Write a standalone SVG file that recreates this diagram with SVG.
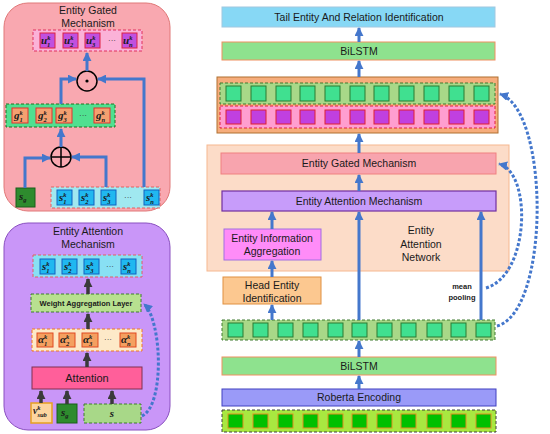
<svg xmlns="http://www.w3.org/2000/svg" width="550" height="434" viewBox="0 0 550 434">
<defs>
<style>
.t{font-family:"Liberation Sans",Arial,sans-serif;font-size:10.5px;fill:#1a1a1a;text-anchor:middle}
.tb{font-family:"Liberation Sans",Arial,sans-serif;font-size:7.5px;font-weight:bold;fill:#1a1a1a;text-anchor:middle}
.m{font-family:"Liberation Serif","Times New Roman",serif;font-style:italic;font-weight:bold;font-size:11px;fill:#1a1a1a}
.sp{font-size:6.5px}
.dots{font-family:"Liberation Sans",Arial,sans-serif;font-size:8px;fill:#333;text-anchor:middle}
.ba{fill:none;stroke:#4477cc;stroke-width:3}
.ka{fill:none;stroke:#3a3a3a;stroke-width:3.5}
.dc{fill:none;stroke:#4477cc;stroke-width:3;stroke-dasharray:3 2}
.rowG{fill:#a8d888;stroke:#3f7a2f;stroke-dasharray:3 2}
.sqG{fill:#40e090;stroke:#2a7a30}
.sqP{fill:#c040e0;stroke:#e02030}
.sqB{fill:#00c000;stroke:#e09020}
</style>
<marker id="ab" viewBox="0 0 10 10" refX="9" refY="5" markerUnits="userSpaceOnUse" markerWidth="9" markerHeight="9" orient="auto"><path d="M0,0 L10,5 L0,10 z" fill="#4477cc"/></marker>
<marker id="ak" viewBox="0 0 10 10" refX="9" refY="5" markerUnits="userSpaceOnUse" markerWidth="9" markerHeight="9" orient="auto"><path d="M0,0 L10,5 L0,10 z" fill="#3a3a3a"/></marker>
<rect id="sqr" width="15" height="15"/>
<rect id="sqr14" width="15" height="14"/>
</defs>

<!-- Left top panel: Entity Gated Mechanism -->
<g id="panel-gated">
<rect x="4" y="3" width="166" height="208" rx="24" fill="#f9a8b0" stroke="#e07878"/>
<text class="t" x="88" y="14">Entity Gated</text>
<text class="t" x="88" y="27">Mechanism</text>
</g>
<g id="u-vector">
<rect x="33" y="30" width="109" height="21" fill="#fbb2d8" stroke="#e03060" stroke-dasharray="3 2"/>
<g fill="#c050e0" stroke="#e02040">
<rect x="40" y="33" width="15" height="15"/><rect x="63" y="33" width="15" height="15"/><rect x="85" y="33" width="15" height="15"/><rect x="122" y="33" width="15" height="15"/>
</g>
<text class="m" x="41" y="44">u<tspan class="sp" dy="-4">k</tspan><tspan class="sp" dx="-3.3" dy="7">1</tspan></text>
<text class="m" x="64" y="44">u<tspan class="sp" dy="-4">k</tspan><tspan class="sp" dx="-3.3" dy="7">2</tspan></text>
<text class="m" x="86" y="44">u<tspan class="sp" dy="-4">k</tspan><tspan class="sp" dx="-3.3" dy="7">3</tspan></text>
<text class="dots" x="112" y="43">···</text>
<text class="m" x="123" y="44">u<tspan class="sp" dy="-4">k</tspan><tspan class="sp" dx="-3.3" dy="7">n</tspan></text>
</g>
<g id="odot">
<circle cx="87" cy="81" r="10" fill="none" stroke="#000" stroke-width="1.5"/>
<circle cx="87" cy="81" r="1.6" fill="#000"/>
</g>
<g id="g-vector">
<rect x="6" y="104" width="109" height="23" fill="#50e090" stroke="#207020" stroke-dasharray="3 2"/>
<g fill="#f4a070" stroke="#e03030">
<rect x="12" y="108" width="16" height="15"/><rect x="36" y="108" width="16" height="15"/><rect x="56" y="108" width="16" height="15"/><rect x="94" y="108" width="16" height="15"/>
</g>
<text class="m" x="14" y="119">g<tspan class="sp" dy="-4">k</tspan><tspan class="sp" dx="-3.3" dy="7">1</tspan></text>
<text class="m" x="38" y="119">g<tspan class="sp" dy="-4">k</tspan><tspan class="sp" dx="-3.3" dy="7">2</tspan></text>
<text class="m" x="58" y="119">g<tspan class="sp" dy="-4">k</tspan><tspan class="sp" dx="-3.3" dy="7">3</tspan></text>
<text class="dots" x="83" y="118">···</text>
<text class="m" x="96" y="119">g<tspan class="sp" dy="-4">k</tspan><tspan class="sp" dx="-3.3" dy="7">n</tspan></text>
</g>
<g id="oplus">
<circle cx="61" cy="157" r="10" fill="none" stroke="#000" stroke-width="1.5"/>
<path d="M51 157 H71 M61 147 V167" stroke="#000" stroke-width="1.5"/>
</g>
<g id="sg-top">
<rect x="16" y="188" width="19" height="19" fill="#2e8b2e" stroke="#1a5e1a"/>
<text class="m" x="19" y="200">s<tspan class="sp" dy="2">g</tspan></text>
</g>
<g id="s-vector-top">
<rect x="51" y="187" width="109" height="21" fill="#a0e8f0" stroke="#e06060" stroke-dasharray="3 2"/>
<g fill="#20b8f0" stroke="#1060c0">
<rect x="57" y="190" width="15" height="15"/><rect x="79" y="190" width="15" height="15"/><rect x="101" y="190" width="15" height="15"/><rect x="144" y="190" width="15" height="15"/>
</g>
<text class="m" x="59" y="201">s<tspan class="sp" dy="-4">k</tspan><tspan class="sp" dx="-3.3" dy="7">1</tspan></text>
<text class="m" x="81" y="201">s<tspan class="sp" dy="-4">k</tspan><tspan class="sp" dx="-3.3" dy="7">2</tspan></text>
<text class="m" x="103" y="201">s<tspan class="sp" dy="-4">k</tspan><tspan class="sp" dx="-3.3" dy="7">3</tspan></text>
<text class="dots" x="128" y="200">···</text>
<text class="m" x="146" y="201">s<tspan class="sp" dy="-4">k</tspan><tspan class="sp" dx="-3.3" dy="7">n</tspan></text>
</g>

<!-- Left bottom panel: Entity Attention Mechanism -->
<g id="panel-attention">
<rect x="4" y="223" width="166" height="207" rx="24" fill="#c996f8" stroke="#8a50c0"/>
<text class="t" x="88" y="235">Entity Attention</text>
<text class="t" x="88" y="248">Mechanism</text>
</g>
<g id="s-vector-bottom">
<rect x="33" y="255" width="109" height="22" fill="#88e0f4" stroke="#e06060" stroke-dasharray="3 2"/>
<g fill="#20b8f0" stroke="#1060c0">
<rect x="40" y="259" width="15" height="15"/><rect x="62" y="259" width="15" height="15"/><rect x="84" y="259" width="15" height="15"/><rect x="121" y="259" width="15" height="15"/>
</g>
<text class="m" x="42" y="270">s<tspan class="sp" dy="-4">k</tspan><tspan class="sp" dx="-3.3" dy="7">1</tspan></text>
<text class="m" x="64" y="270">s<tspan class="sp" dy="-4">k</tspan><tspan class="sp" dx="-3.3" dy="7">2</tspan></text>
<text class="m" x="86" y="270">s<tspan class="sp" dy="-4">k</tspan><tspan class="sp" dx="-3.3" dy="7">3</tspan></text>
<text class="dots" x="110" y="269">···</text>
<text class="m" x="123" y="270">s<tspan class="sp" dy="-4">k</tspan><tspan class="sp" dx="-3.3" dy="7">n</tspan></text>
</g>
<g id="weight-aggregation">
<rect x="31" y="294" width="110" height="18" fill="#b8e090" stroke="#3f7a2f" stroke-dasharray="3 2"/>
<text class="tb" x="86" y="306">Weight Aggregation Layer</text>
</g>
<g id="alpha-vector">
<rect x="32" y="329" width="110" height="22" fill="#fde9c8" stroke="#f07820" stroke-dasharray="3 2"/>
<g fill="#f4a060" stroke="#e04820">
<rect x="37" y="333" width="16" height="14"/><rect x="59" y="333" width="16" height="14"/><rect x="82" y="333" width="16" height="14"/><rect x="120" y="333" width="16" height="14"/>
</g>
<text class="m" x="38" y="343">α<tspan class="sp" dy="-4">k</tspan><tspan class="sp" dx="-3.3" dy="7">1</tspan></text>
<text class="m" x="60" y="343">α<tspan class="sp" dy="-4">k</tspan><tspan class="sp" dx="-3.3" dy="7">2</tspan></text>
<text class="m" x="83" y="343">α<tspan class="sp" dy="-4">k</tspan><tspan class="sp" dx="-3.3" dy="7">3</tspan></text>
<text class="dots" x="108" y="342">···</text>
<text class="m" x="121" y="343">α<tspan class="sp" dy="-4">k</tspan><tspan class="sp" dx="-3.3" dy="7">n</tspan></text>
</g>
<g id="attention">
<rect x="32" y="367" width="110" height="22" fill="#ff5f9a" stroke="#803050"/>
<text class="t" x="87" y="382" style="font-size:11px">Attention</text>
</g>
<g id="v-sub">
<rect x="31" y="403" width="21" height="20" fill="#fcd5a0" stroke="#e6a020" stroke-width="1.5"/>
<text class="m" x="33" y="414" style="font-size:9.5px">v<tspan class="sp" dy="-4">k</tspan><tspan class="sp" dx="-3" dy="7">sub</tspan></text>
</g>
<g id="sg-bottom">
<rect x="57" y="404" width="20" height="19" fill="#2e8b2e" stroke="#1a5e1a"/>
<text class="m" x="61" y="416">s<tspan class="sp" dy="2">g</tspan></text>
</g>
<g id="s-input">
<rect x="84" y="404" width="57" height="19" fill="#a8d888" stroke="#3f7a2f" stroke-dasharray="3 2"/>
<text class="m" x="112" y="417" text-anchor="middle">s</text>
</g>

<!-- Right side -->
<g id="tail-entity">
<rect x="222" y="7" width="273" height="20" fill="#87d8f5" stroke="#a0c8e0"/>
<text class="t" x="359" y="21">Tail Entity And Relation Identification</text>
</g>
<g id="bilstm-top">
<rect x="222" y="42" width="273" height="18" fill="#8ee28e" stroke="#f09060"/>
<text class="t" x="359" y="55">BiLSTM</text>
</g>
<g id="concat-block">
<rect x="217" y="77" width="281" height="56" fill="#f6ad7c" stroke="#b07030"/>
<rect class="rowG" x="220" y="83" width="275" height="21"/>
<g class="sqG">
<use href="#sqr" x="226" y="86"/><use href="#sqr" x="251" y="86"/><use href="#sqr" x="276" y="86"/><use href="#sqr" x="300" y="86"/><use href="#sqr" x="325" y="86"/><use href="#sqr" x="350" y="86"/><use href="#sqr" x="374" y="86"/><use href="#sqr" x="399" y="86"/><use href="#sqr" x="424" y="86"/><use href="#sqr" x="449" y="86"/><use href="#sqr" x="474" y="86"/>
</g>
<rect x="220" y="106" width="275" height="22" fill="#ff9ed0" stroke="#e02040" stroke-dasharray="3 2"/>
<g class="sqP">
<use href="#sqr14" x="226" y="110"/><use href="#sqr14" x="251" y="110"/><use href="#sqr14" x="276" y="110"/><use href="#sqr14" x="300" y="110"/><use href="#sqr14" x="325" y="110"/><use href="#sqr14" x="350" y="110"/><use href="#sqr14" x="374" y="110"/><use href="#sqr14" x="399" y="110"/><use href="#sqr14" x="424" y="110"/><use href="#sqr14" x="449" y="110"/><use href="#sqr14" x="474" y="110"/>
</g>
</g>
<g id="entity-attention-network">
<rect x="207" y="145" width="302" height="126" fill="#fcdcc8" stroke="#f6b890"/>
<text class="t" x="421" y="234">Entity</text>
<text class="t" x="421" y="248">Attention</text>
<text class="t" x="421" y="261">Network</text>
</g>
<g id="entity-gated">
<rect x="221" y="153" width="275" height="21" fill="#f8a4ae" stroke="#f08080"/>
<text class="t" x="359" y="167">Entity Gated Mechanism</text>
</g>
<g id="entity-attention-mech">
<rect x="222" y="191" width="274" height="20" fill="#c79cfa" stroke="#7030a0" stroke-width="1.2"/>
<text class="t" x="359" y="205">Entity Attention Mechanism</text>
</g>
<g id="entity-info-agg">
<rect x="224" y="229" width="97" height="31" fill="#ff8cf8" stroke="#a070e0"/>
<text class="t" x="272" y="242">Entity Information</text>
<text class="t" x="272" y="255">Aggregation</text>
</g>
<g id="head-entity">
<rect x="223" y="277" width="98" height="27" fill="#fcc890" stroke="#e09040"/>
<text class="t" x="272" y="289">Head Entity</text>
<text class="t" x="272" y="302">Identification</text>
</g>
<g id="mean-pooling">
<text class="tb" x="462" y="289">mean</text>
<text class="tb" x="462" y="300">pooling</text>
</g>
<g id="hidden-row">
<rect class="rowG" x="222" y="320" width="273" height="20"/>
<g class="sqG">
<use href="#sqr14" x="228" y="323"/><use href="#sqr14" x="253" y="323"/><use href="#sqr14" x="278" y="323"/><use href="#sqr14" x="303" y="323"/><use href="#sqr14" x="328" y="323"/><use href="#sqr14" x="352" y="323"/><use href="#sqr14" x="377" y="323"/><use href="#sqr14" x="401" y="323"/><use href="#sqr14" x="427" y="323"/><use href="#sqr14" x="451" y="323"/><use href="#sqr14" x="476" y="323"/>
</g>
</g>
<g id="bilstm-bottom">
<rect x="222" y="357" width="274" height="18" fill="#8ee28e" stroke="#f09060"/>
<text class="t" x="359" y="370">BiLSTM</text>
</g>
<g id="roberta">
<rect x="222" y="389" width="274" height="17" fill="#9a9af8" stroke="#4040c0"/>
<text class="t" x="359" y="401">Roberta Encoding</text>
</g>
<g id="input-row">
<rect x="222" y="410" width="274" height="22" fill="#a8e840" stroke="#404040" stroke-dasharray="3 2"/>
<g class="sqB">
<use href="#sqr14" x="228" y="414"/><use href="#sqr14" x="253" y="414"/><use href="#sqr14" x="278" y="414"/><use href="#sqr14" x="303" y="414"/><use href="#sqr14" x="328" y="414"/><use href="#sqr14" x="352" y="414"/><use href="#sqr14" x="377" y="414"/><use href="#sqr14" x="401" y="414"/><use href="#sqr14" x="427" y="414"/><use href="#sqr14" x="451" y="414"/><use href="#sqr14" x="476" y="414"/>
</g>
</g>

<!-- Connectors -->
<g id="connectors">
<path class="ba" d="M87 71 V53" marker-end="url(#ab)"/>
<path class="ba" d="M61 104 V79 H76" marker-end="url(#ab)"/>
<path class="ba" d="M144 187 V79 H98" marker-end="url(#ab)"/>
<path class="ba" d="M61 147 V129" marker-end="url(#ab)"/>
<path class="ba" d="M25 188 V158 H50" marker-end="url(#ab)"/>
<path class="ba" d="M106 187 V157 H72" marker-end="url(#ab)"/>
<path class="ka" d="M88 294 V279" marker-end="url(#ak)"/>
<path class="ka" d="M88 329 V314" marker-end="url(#ak)"/>
<path class="ka" d="M87 367 V353" marker-end="url(#ak)"/>
<path class="ka" d="M41 403 V391" marker-end="url(#ak)"/>
<path class="ka" d="M67 404 V391" marker-end="url(#ak)"/>
<path class="ka" d="M112 404 V391" marker-end="url(#ak)"/>
<path class="dc" d="M142 416 C165 405, 162 320, 144 304" marker-end="url(#ab)"/>
<path class="ba" d="M359 42 V28" marker-end="url(#ab)"/>
<path class="ba" d="M359 77 V61" marker-end="url(#ab)"/>
<path class="ba" d="M359 153 V134" marker-end="url(#ab)"/>
<path class="ba" d="M359 191 V175" marker-end="url(#ab)"/>
<path class="ba" d="M272 229 V212" marker-end="url(#ab)"/>
<path class="ba" d="M272 277 V261" marker-end="url(#ab)"/>
<path class="ba" d="M359 320 V212" marker-end="url(#ab)"/>
<path class="ba" d="M481 320 V212" marker-end="url(#ab)"/>
<path class="ba" d="M272 320 V305" marker-end="url(#ab)"/>
<path class="ba" d="M359 357 V341" marker-end="url(#ab)"/>
<path class="ba" d="M359 389 V376" marker-end="url(#ab)"/>
<path class="dc" d="M497 326 C550 312, 550 110, 500 94" marker-end="url(#ab)"/>
<path class="dc" d="M486 288 C530 275, 532 172, 499 164" marker-end="url(#ab)"/>
</g>
</svg>
